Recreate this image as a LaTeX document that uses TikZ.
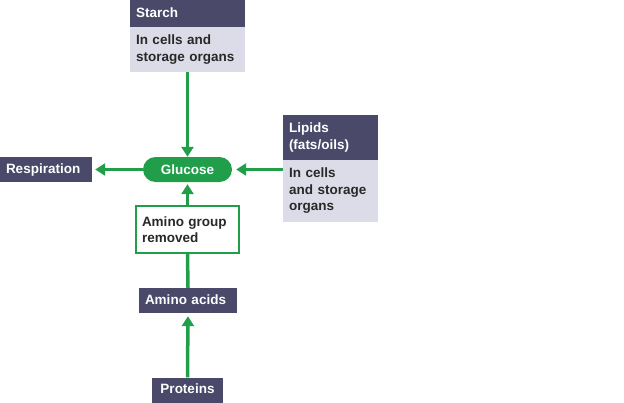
\documentclass[tikz,border=0pt]{standalone}
\usepackage{fontspec}
\setmainfont{Liberation Sans}
\usepackage{tikz}
\usetikzlibrary{arrows.meta, positioning, calc}
\definecolor{mydark}{RGB}{74,73,106}
\definecolor{mylight}{RGB}{220,220,232}
\definecolor{mygreen}{RGB}{32,158,74}
\definecolor{mytext}{RGB}{40,40,40}
\newcommand{\boxfont}{\fontsize{13.5}{16.5}\selectfont\bfseries}
\tikzset{
  hdrbox/.style={rectangle, fill=mydark, text=white, align=left,
    inner xsep=6pt, inner ysep=0pt, font=\boxfont},
  bodybox/.style={rectangle, fill=mylight, text=mytext, align=left,
    inner xsep=6pt, inner ysep=0pt, font=\boxfont},
  glubox/.style={rectangle, fill=mygreen, text=white, rounded corners=12.5pt,
    minimum width=89pt, minimum height=25pt, font=\boxfont},
  stepbox/.style={rectangle, draw=mygreen, fill=white, text=mytext, align=left,
    line width=2pt, inner xsep=6pt, inner ysep=0pt, font=\boxfont},
  oneline/.style={text height=9.5pt, text depth=2.5pt},
  arrow/.style={-{Triangle[width=12pt,length=10pt]}, line width=3.5pt, color=mygreen},
  line/.style={line width=3.5pt, color=mygreen}
}

\begin{document}
\begin{tikzpicture}[x=1pt, y=-1pt]
  \useasboundingbox (0,0) rectangle (624,402);

  % Starch
  \node[hdrbox, oneline, text width=103pt, minimum height=27pt] (starch) at (187.5,13.5) {Starch};
  \node[bodybox, text width=103pt, minimum height=45pt] (starchbody) at (187.5,49.5)
    {In cells and\\storage organs};

  % Glucose and respiration
  \node[glubox] (glucose) at (187.5,169.5) {Glucose};
  \node[hdrbox, oneline, text width=80pt, minimum height=25pt] (resp) at (46,169.5) {Respiration};

  % Lipids
  \node[hdrbox, text width=83pt, minimum height=45pt] (lipids) at (330.5,137.5)
    {Lipids\\(fats/oils)};
  \node[bodybox, text width=83pt, minimum height=62pt] (lipidbody) at (330.5,191)
    {In cells\\and storage\\organs};

  % Amino acids branch
  \node[stepbox, text width=91pt, minimum height=47pt] (amgroup) at (187.5,229.5)
    {Amino group\\removed};
  \node[hdrbox, oneline, text width=86pt, minimum height=25pt] (amacids) at (188,300.5) {Amino acids};
  \node[hdrbox, oneline, text width=59pt, minimum height=25pt, align=center] (proteins) at (187.5,390) {Proteins};

  % Connectors
  \draw[arrow] (starchbody.south) -- (glucose.north);
  \draw[arrow, shorten >=3pt] (glucose.west) -- (resp.east);
  \draw[arrow, shorten >=4pt] (lipidbody.west |- glucose.east) -- (glucose.east);
  \draw[arrow, shorten >=2pt] (amgroup.north) -- (glucose.south);
  \draw[line] (amacids.north) -- (amgroup.south);
  \draw[arrow, shorten >=3pt] (proteins.north) -- (amacids.south);
\end{tikzpicture}
\end{document}
